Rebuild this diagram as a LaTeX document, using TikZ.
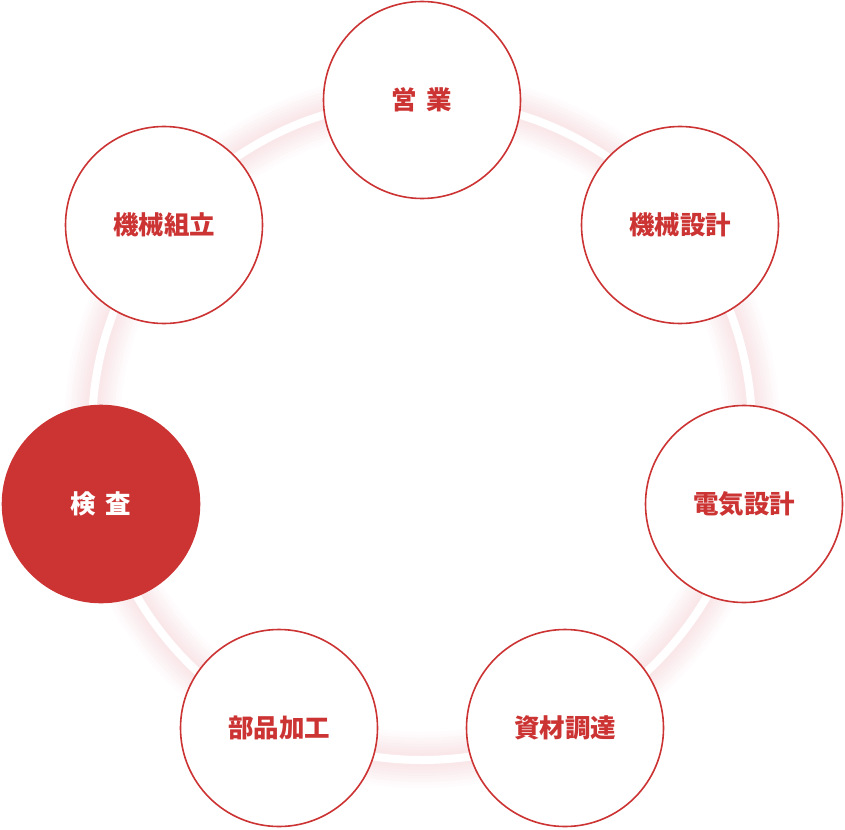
\documentclass[tikz,border=0pt]{standalone}
\usepackage{fontspec}
\newfontfamily\cjk{Noto Sans CJK JP}
\usetikzlibrary{positioning}
\definecolor{flowred}{HTML}{CC3333}
\definecolor{glowred}{HTML}{D04050}
\tikzset{
  stage/.style={circle,draw=flowred,line width=1.6pt,fill=white,minimum size=197pt,inner sep=0pt,
    text=flowred,font=\cjk\bfseries\fontsize{25.5}{25.5}\selectfont},
  current/.style={stage,fill=flowred,text=white}
}
\begin{document}
\begin{tikzpicture}[x=1pt,y=-1pt]
\useasboundingbox (0,0) rectangle (845,829);
\coordinate (o) at (422,430);
% soft glow round the ring
\foreach \w in {56,50,...,14}
  \draw[glowred,opacity=0.015,line width=\w pt] (o) circle (330);
\draw[white,line width=8pt] (o) circle (330);
\node[stage] (sales) at (422,100) {営\hspace{0.36em}業};
\node[stage] (mech) at (680,225) {機械設計};
\node[stage] (elec) at (744,504) {電気設計};
\node[stage] (buy) at (565,728) {資材調達};
\node[stage] (parts) at (279,728) {部品加工};
\node[current] (check) at (101,504) {検\hspace{0.36em}査};
\node[stage] (asm) at (164,225) {機械組立};
\end{tikzpicture}
\end{document}
